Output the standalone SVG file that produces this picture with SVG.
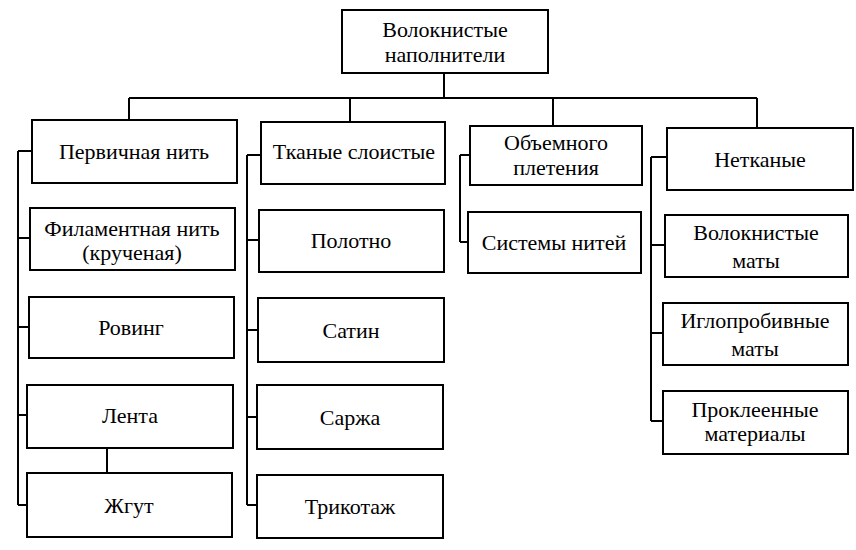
<svg xmlns="http://www.w3.org/2000/svg" width="856" height="550" viewBox="0 0 856 550">
<style>
rect{fill:#fff;stroke:#000;stroke-width:2}
text{font-size:22px;fill:#000;text-anchor:middle}
#connectors path{fill:none;stroke:#000;stroke-width:2}
</style>
<g id="connectors">
<path d="M444 73V98M129 98H757M129 98V120M350 98V122M553 98V126M757 98V128"/>
<path d="M18 151V505M18 151H32M18 238H30M18 327H29M18 415H27M18 505H27M107 448V473"/>
<path d="M247 155V505M247 155H261M247 240H259M247 330H258M247 417H257M247 505H257"/>
<path d="M460 155V242M460 155H470M460 242H468"/>
<path d="M651 157V421M651 157H667M651 245H665M651 333H663M651 421H663"/>
</g>
<g font-family="Liberation Serif, Tinos, Times New Roman, DejaVu Serif, serif">
<g id="root"><rect x="342" y="10" width="206" height="63"/><text x="445" y="37">Волокнистые</text><text x="445" y="62">наполнители</text></g>
<g id="n1"><rect x="32" y="120" width="205" height="63"/><text x="134" y="159">Первичная нить</text></g>
<g id="n2"><rect x="261" y="122" width="184" height="62"/><text x="354" y="159">Тканые слоистые</text></g>
<g id="n3"><rect x="470" y="126" width="172" height="59"/><text x="556" y="150">Объемного</text><text x="556" y="175">плетения</text></g>
<g id="n4"><rect x="667" y="128" width="186" height="62"/><text x="760" y="167">Нетканые</text></g>
<g id="n11"><rect x="30" y="208" width="205" height="62"/><text x="132" y="236">Филаментная нить</text><text x="132" y="260">(крученая)</text></g>
<g id="n12"><rect x="29" y="297" width="205" height="61"/><text x="131" y="335">Ровинг</text></g>
<g id="n13"><rect x="27" y="385" width="206" height="63"/><text x="130" y="423">Лента</text></g>
<g id="n14"><rect x="27" y="473" width="205" height="64"/><text x="129" y="513">Жгут</text></g>
<g id="n21"><rect x="259" y="210" width="185" height="62"/><text x="351" y="248">Полотно</text></g>
<g id="n22"><rect x="258" y="298" width="186" height="64"/><text x="351" y="338">Сатин</text></g>
<g id="n23"><rect x="257" y="385" width="186" height="64"/><text x="350" y="425">Саржа</text></g>
<g id="n24"><rect x="257" y="475" width="186" height="63"/><text x="350" y="514">Трикотаж</text></g>
<g id="n31"><rect x="468" y="212" width="173" height="61"/><text x="554" y="250">Системы нитей</text></g>
<g id="n41"><rect x="665" y="215" width="183" height="62"/><text x="756" y="240">Волокнистые</text><text x="756" y="268">маты</text></g>
<g id="n42"><rect x="663" y="303" width="185" height="62"/><text x="755" y="328">Иглопробивные</text><text x="755" y="356">маты</text></g>
<g id="n43"><rect x="663" y="391" width="185" height="63"/><text x="755" y="417">Проклеенные</text><text x="755" y="441">материалы</text></g>
</g>
</svg>
